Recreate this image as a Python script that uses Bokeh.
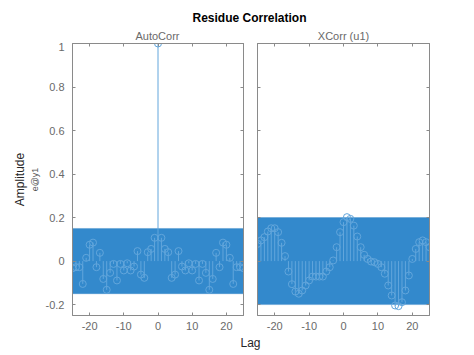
from bokeh.plotting import figure
from bokeh.layouts import column, row
from bokeh.models import Range1d, FixedTicker, LinearAxis, BoxAnnotation, CustomJSTickFormatter
from bokeh.core.properties import value
from bokeh.embed import file_html
from bokeh.resources import INLINE

# ---------------- data ----------------
lags = list(range(-25, 26))
auto_corr = [-0.033, -0.028, -0.028, -0.105, 0.015, 0.075, 0.085, -0.028, 0.038, -0.082,
             -0.132, -0.054, -0.013, -0.089, -0.013, -0.043, -0.010, -0.043, -0.025, 0.046,
             -0.062, -0.077, 0.041, 0.056, 0.107,
             1.000,
             0.107, 0.056, 0.041, -0.077, -0.062, 0.046, -0.025, -0.043, -0.010, -0.043,
             -0.013, -0.089, -0.013, -0.054, -0.132, -0.082, 0.038, -0.028, 0.085, 0.075,
             0.015, -0.105, -0.028, -0.028, -0.033]
xcorr_u1 = [0.079, 0.095, 0.110, 0.136, 0.151, 0.151, 0.133, 0.084, 0.023, -0.048,
            -0.106, -0.140, -0.150, -0.135, -0.112, -0.089, -0.071, -0.071, -0.071, -0.071,
            -0.048, -0.028, 0.003, 0.064, 0.133,
            0.179,
            0.202, 0.194, 0.163, 0.113, 0.064, 0.029, 0.010, -0.002, -0.005, -0.013,
            -0.028, -0.058, -0.112, -0.158, -0.204, -0.207, -0.189, -0.135, -0.066, 0.010,
            0.056, 0.087, 0.095, 0.087, 0.064]
auto_bound = 0.15
xcorr_bound = 0.20
x_ticks = [-20, -10, 0, 10, 20]
y_ticks = [-0.2, 0, 0.2, 0.4, 0.6, 0.8, 1]
y_tick_labels = ["-0.2", "0", "0.2", "0.4", "0.6", "0.8", "1"]
x_tick_labels = ["-20", "-10", "0", "10", "20"]
panel_titles = ["AutoCorr", "XCorr (u1)"]
main_title = "Residue Correlation"
x_label = "Lag"
y_label = "Amplitude"
y_sublabel = "e@y1"

FONT = "Liberation Sans"
BAND = "#3389cc"
STEM = "#62a6dc"
AX = "#8a8a8a"
TICKTXT = "#6a6a6a"

EMPTY = CustomJSTickFormatter(code="return ''")


def style_axis(ax, ticks, labels=None):
    ax.ticker = FixedTicker(ticks=ticks)
    ax.axis_line_color = AX
    ax.major_tick_line_color = AX
    ax.major_tick_in = 3
    ax.major_tick_out = 0
    ax.minor_tick_line_color = None
    if labels is None:
        ax.formatter = EMPTY
        ax.major_label_standoff = 0
        ax.major_label_text_font_size = "1px"
    else:
        ax.major_label_overrides = {t: l for t, l in zip(ticks, labels)}
        ax.major_label_text_font = FONT
        ax.major_label_text_font_size = "11px"
        ax.major_label_text_color = TICKTXT


def panel(vals, bound, left_labels, width, mb_left, mb_right):
    p = figure(width=width, height=292, x_range=Range1d(-25, 25), y_range=Range1d(-0.25, 1.0),
               toolbar_location=None, output_backend="svg",
               min_border_left=mb_left, min_border_right=mb_right,
               min_border_top=1, min_border_bottom=19)
    p.grid.visible = False
    p.outline_line_color = AX
    p.add_layout(BoxAnnotation(bottom=-bound, top=bound, fill_color=BAND, fill_alpha=1.0,
                               line_color="#2a7cc0", line_width=1, level="underlay"))
    p.segment(x0=lags, y0=[0] * len(lags), x1=lags, y1=vals, line_color=STEM, line_width=1)
    p.scatter(lags, vals, size=7, fill_color=None, line_color=STEM, line_width=1)

    style_axis(p.xaxis[0], x_ticks, x_tick_labels)
    p.xaxis[0].major_label_standoff = 6
    if left_labels:
        style_axis(p.yaxis[0], y_ticks, y_tick_labels)
        p.yaxis[0].major_label_standoff = 8
        p.yaxis[0].axis_label = y_sublabel
        p.yaxis[0].axis_label_text_font = FONT
        p.yaxis[0].axis_label_text_font_style = "normal"
        p.yaxis[0].axis_label_text_font_size = "9px"
        p.yaxis[0].axis_label_text_color = "#555555"
        p.yaxis[0].axis_label_standoff = 3
        amp = LinearAxis(axis_label=y_label, ticker=FixedTicker(ticks=[]), formatter=EMPTY)
        amp.axis_line_color = None
        amp.major_tick_line_color = None
        amp.minor_tick_line_color = None
        amp.major_label_standoff = 0
        amp.major_label_text_font_size = "0px"
        amp.axis_label_text_font = FONT
        amp.axis_label_text_font_style = "normal"
        amp.axis_label_text_font_size = "12px"
        amp.axis_label_text_color = "#262626"
        amp.axis_label_standoff = 0
        p.add_layout(amp, "left")
    else:
        style_axis(p.yaxis[0], y_ticks)
    top = LinearAxis()
    style_axis(top, x_ticks)
    p.add_layout(top, "above")
    right = LinearAxis()
    style_axis(right, y_ticks)
    p.add_layout(right, "right")
    return p


def text_strip(width, height, items):
    p = figure(width=width, height=height, x_range=Range1d(0, width), y_range=Range1d(0, height),
               toolbar_location=None, output_backend="svg", min_border=0)
    p.axis.visible = False
    p.grid.visible = False
    p.outline_line_color = None
    for (x, y, txt, size, style, color) in items:
        p.text(x=[x], y=[y], text=[txt], text_align="center", text_baseline="middle",
               text_font=value(FONT), text_font_size=size, text_font_style=style,
               text_color=color)
    return p


header = text_strip(466, 42, [(249, 25, main_title, "12px", "bold", "#000000"),
                              (157, 7, panel_titles[0], "11px", "normal", "#6a6a6a"),
                              (343, 7, panel_titles[1], "11px", "normal", "#6a6a6a")])
left = panel(auto_corr, auto_bound, True, 250, 72, 7)
right_p = panel(xcorr_u1, xcorr_bound, False, 216, 7, 37)
footer = text_strip(466, 20, [(250, 12, x_label, "12px", "normal", "#262626")])

layout = column(header, row(left, right_p), footer)
open("out.html", "w").write(file_html(layout, INLINE))
